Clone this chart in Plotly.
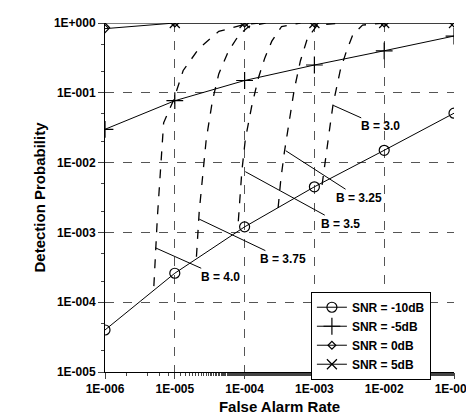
import plotly.graph_objects as go

far = [1e-6, 1e-5, 1e-4, 1e-3, 1e-2, 1e-1]
snr_names = ["SNR = -10dB", "SNR = -5dB", "SNR = 0dB", "SNR = 5dB"]
pd_m10 = [4e-5, 2.6e-4, 1.2e-3, 4.5e-3, 1.5e-2, 5.1e-2]
pd_m5 = [0.03, 0.077, 0.15, 0.25, 0.4, 0.65]
pd_0 = [0.83, 1.0, 1.0, 1.0, 1.0, 1.0]
pd_5 = [1.0, 1.0, 1.0, 1.0, 1.0, 1.0]
symbols = ["circle-open", "cross-thin-open", "diamond-open", "x-thin-open"]
sizes = [10, 12, 6, 10]

# B curves: log10 of false alarm and detection probability
b_labels = ["B = 3.0", "B = 3.25", "B = 3.5", "B = 3.75", "B = 4.0"]
b_logx = [
    [-2.89, -2.82, -2.77, -2.73, -2.63, -2.54, -2.45, -2.31, -2.0],
    [-3.52, -3.48, -3.43, -3.34, -3.29, -3.20, -3.10, -2.96, -2.6],
    [-4.09, -4.04, -3.99, -3.90, -3.80, -3.71, -3.61, -3.47, -3.2],
    [-4.69, -4.65, -4.55, -4.46, -4.37, -4.23, -4.08, -3.94, -3.7],
    [-5.30, -5.25, -5.16, -5.02, -4.88, -4.65, -4.37, -4.04, -3.8],
]
b_logy = [
    [-2.32, -1.76, -1.43, -1.15, -0.68, -0.40, -0.17, -0.03, 0.0],
    [-2.65, -2.23, -1.85, -1.29, -0.96, -0.54, -0.22, -0.03, 0.0],
    [-2.84, -2.13, -1.67, -1.20, -0.78, -0.50, -0.26, -0.05, 0.0],
    [-3.35, -2.70, -1.67, -1.11, -0.73, -0.40, -0.17, -0.05, 0.0],
    [-3.77, -2.79, -1.43, -1.11, -0.68, -0.36, -0.12, -0.03, 0.0],
]
b_anchor = [(-2.73, -1.18), (-3.41, -1.83), (-3.99, -2.13), (-4.65, -2.81), (-5.28, -3.22)]
b_offset = [(47, 21), (73, 47), (95, 52), (84, 40), (65, 29)]

fig = go.Figure()
for lx, ly in zip(b_logx, b_logy):
    fig.add_trace(go.Scatter(x=[10**v for v in lx], y=[10**v for v in ly], mode="lines",
                             line=dict(color="black", dash="dash", width=1.3),
                             showlegend=False, hoverinfo="skip"))
for name, ys, sym, sz in zip(snr_names, [pd_m10, pd_m5, pd_0, pd_5], symbols, sizes):
    fig.add_trace(go.Scatter(x=far, y=ys, mode="lines+markers", name=name,
                             line=dict(color="black", width=1),
                             marker=dict(symbol=sym, size=sz, color="black",
                                         line=dict(width=1.2, color="black"))))
for lab, (ax0, ay0), (dx, dy) in zip(b_labels, b_anchor, b_offset):
    fig.add_annotation(x=ax0, y=ay0, xref="x", yref="y", ax=dx, ay=dy, text="<b>%s</b>" % lab,
                       showarrow=True, arrowhead=0, arrowwidth=1, arrowcolor="black",
                       font=dict(size=12, color="black", family="Liberation Sans"))

ytick_vals = [1, 1e-1, 1e-2, 1e-3, 1e-4, 1e-5]
ytick_text = ["1E+000", "1E-001", "1E-002", "1E-003", "1E-004", "1E-005"]
xtick_text = ["1E-006", "1E-005", "1E-004", "1E-003", "1E-002", "1E-001"]
grid = dict(showgrid=True, gridcolor="#555", griddash="dash", gridwidth=1)
tf = dict(size=12, weight="bold")
fig.update_xaxes(type="log", range=[-6, -1], tickvals=far, ticktext=xtick_text,
                 showline=True, linecolor="black", ticks="outside", ticklen=6,
                 minor=dict(ticks="outside", ticklen=3, showgrid=False),
                 title=dict(text="<b>False Alarm Rate</b>", font=dict(size=15), standoff=6),
                 tickfont=tf, **grid)
fig.update_yaxes(type="log", range=[-5, 0], tickvals=ytick_vals, ticktext=ytick_text,
                 showline=True, linecolor="black", ticks="outside", ticklen=6,
                 minor=dict(ticks="outside", ticklen=3, showgrid=False),
                 title=dict(text="<b>Detection Probability</b>", font=dict(size=15), standoff=4),
                 tickfont=tf, **grid)
fig.update_layout(width=474, height=417, margin=dict(l=97, r=21, t=8, b=53),
                  plot_bgcolor="white", paper_bgcolor="white",
                  font=dict(family="Liberation Sans", color="black"),
                  legend=dict(x=0.59, y=0.23, xanchor="left", yanchor="top",
                              bordercolor="black", borderwidth=1, bgcolor="white",
                              font=dict(size=12, weight="bold"), tracegroupgap=0))
fig.write_html("out.html")
